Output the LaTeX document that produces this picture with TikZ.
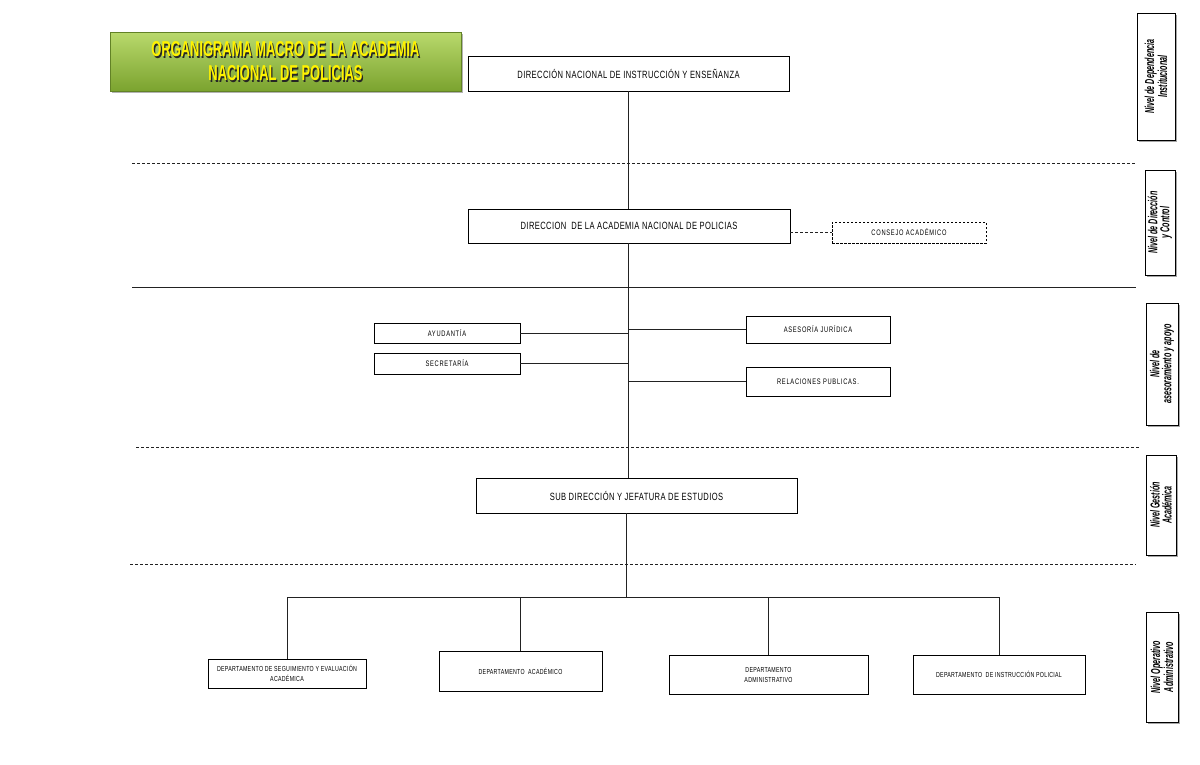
\documentclass[tikz,border=0pt]{standalone}
\usepackage{fontspec}
\setmainfont{Liberation Sans}
\newfontfamily\cond[FakeStretch=0.72,LetterSpace=4]{Liberation Sans}
\newfontfamily\scond[FakeStretch=0.72,LetterSpace=9]{Liberation Sans}
\newfontfamily\titlefont[FakeStretch=0.6]{Liberation Sans}
\newfontfamily\lvlfont[FakeStretch=0.55]{Liberation Sans}
\usetikzlibrary{shadows}
\definecolor{gtop}{HTML}{B9D96C}
\definecolor{gbot}{HTML}{7BA32F}
\definecolor{lineg}{HTML}{222222}
\newcommand\shtext[1]{\leavevmode\rlap{\kern1.3pt\raisebox{-1.3pt}{\color{black!85}#1}}#1}
\tikzset{
  box/.style={draw=black, line width=0.9pt, fill=white, rectangle, inner sep=0pt, align=center},
  mainbox/.style={box, font=\cond\fontsize{10.5}{12}\selectfont},
  smallbox/.style={box, font=\scond\fontsize{8}{9}\selectfont},
  deptbox/.style={box, font=\cond\fontsize{7.3}{10}\selectfont},
  lvlbox/.style={draw=black, line width=0.8pt, fill=white, rectangle, inner sep=0pt, align=center, rotate=90,
     font=\lvlfont\bfseries\itshape\fontsize{13}{12}\selectfont,
     drop shadow={shadow xshift=2pt, shadow yshift=-2pt, fill=gray, opacity=0.7}},
  conn/.style={draw=lineg, line width=1pt},
  sep/.style={draw=lineg, line width=0.7pt, dash pattern=on 3pt off 2pt},
  sepsolid/.style={draw=lineg, line width=0.8pt}
}
\begin{document}
\begin{tikzpicture}[x=1pt,y=-1pt]
\useasboundingbox (0,0) rectangle (1200,764);
% title
\node[rectangle, minimum width=351pt, minimum height=59pt, top color=gtop, bottom color=gbot,
  draw=gbot!80!black, line width=0.5pt,
  drop shadow={shadow xshift=2pt, shadow yshift=-2pt, fill=gray, opacity=0.6}] (title) at (285.5,61.5) {};
\node[font=\titlefont\bfseries\fontsize{21.5}{24}\selectfont, text=yellow, align=center] (titletext) at (285.5,62)
  {\shtext{ORGANIGRAMA MACRO DE LA ACADEMIA}\\\shtext{NACIONAL DE POLICIAS}};
% separators
\coordinate (s1a) at (132,163); \coordinate (s1b) at (1136,163);
\coordinate (s2a) at (132,287); \coordinate (s2b) at (1136,287);
\coordinate (s3a) at (136,447); \coordinate (s3b) at (1140,447);
\coordinate (s4a) at (130,564); \coordinate (s4b) at (1136,564);
\draw[sep] (s1a) -- (s1b);
\draw[sepsolid] (s2a) -- (s2b);
\draw[sep] (s3a) -- (s3b);
\draw[sep] (s4a) -- (s4b);
% main boxes
\node[mainbox, minimum width=321pt, minimum height=35pt] (b1) at (628.5,73.5) {DIRECCIÓN NACIONAL DE INSTRUCCIÓN Y ENSEÑANZA};
\node[mainbox, minimum width=322pt, minimum height=34pt] (b2) at (629,226) {DIRECCION\ \ DE LA ACADEMIA NACIONAL DE POLICIAS};
\node[smallbox, dashed, line width=0.7pt, dash pattern=on 2.5pt off 1.5pt, minimum width=154pt, minimum height=21pt] (cons) at (909,232.5) {CONSEJO ACADÉMICO};
\node[smallbox, minimum width=146pt, minimum height=20pt] (ayu) at (447,333) {AYUDANTÍA};
\node[smallbox, minimum width=146pt, minimum height=21pt] (sec) at (447,363.5) {SECRETARÍA};
\node[smallbox, minimum width=144pt, minimum height=27pt] (ase) at (818,329.5) {ASESORÍA JURÍDICA};
\node[smallbox, minimum width=144pt, minimum height=29pt] (rel) at (818,381.5) {RELACIONES PUBLICAS.};
\node[mainbox, minimum width=321pt, minimum height=35pt] (sub) at (636.5,495.5) {SUB DIRECCIÓN Y JEFATURA DE ESTUDIOS};
\node[deptbox, minimum width=158pt, minimum height=29pt] (d1) at (287,673.5) {DEPARTAMENTO DE SEGUIMIENTO Y EVALUACIÓN\\ACADÉMICA};
\node[deptbox, minimum width=163pt, minimum height=40pt] (d2) at (520.5,671) {DEPARTAMENTO\ \ ACADÉMICO};
\node[deptbox, minimum width=199pt, minimum height=39pt] (d3) at (768.5,674.5) {DEPARTAMENTO\\ADMINISTRATIVO};
\node[deptbox, minimum width=172pt, minimum height=39pt] (d4) at (999,674.5) {DEPARTAMENTO\ \ DE INSTRUCCIÓN POLICIAL};
% connectors
\coordinate (trunk) at (628.5,400);
\draw[conn] (b1.south) -- (b1.south |- b2.north);
\draw[conn] (b2.south -| trunk) -- (trunk |- sub.north);
\draw[sep] (b2.east |- cons.west) -- (cons.west);
\draw[conn] (ayu.east) -- (ayu.east -| trunk);
\draw[conn] (sec.east) -- (sec.east -| trunk);
\draw[conn] (ase.west) -- (ase.west -| trunk);
\draw[conn] (rel.west) -- (rel.west -| trunk);
\coordinate (bus) at (626.5,597);
\draw[conn] (sub.south -| bus) -- (bus);
\draw[conn] (d1.north) -- (d1.north |- bus) -- (d4.north |- bus) -- (d4.north);
\draw[conn] (d2.north) -- (d2.north |- bus);
\draw[conn] (d3.north) -- (d3.north |- bus);
% level boxes
\node[lvlbox, minimum width=127pt, minimum height=38pt] (l1) at (1156,76.5) {Nivel de Dependencia\\Institucional};
\node[lvlbox, minimum width=105pt, minimum height=30pt] (l2) at (1160,222.5) {Nivel de Dirección\\y Control};
\node[lvlbox, minimum width=122pt, minimum height=32pt] (l3) at (1162,364) {Nivel de\\asesoramiento y apoyo};
\node[lvlbox, minimum width=100pt, minimum height=30pt] (l4) at (1161,505) {Nivel Gestión\\Académica};
\node[lvlbox, minimum width=110pt, minimum height=32pt] (l5) at (1162,667) {Nivel Operativo\\Administrativo};
\end{tikzpicture}
\end{document}
